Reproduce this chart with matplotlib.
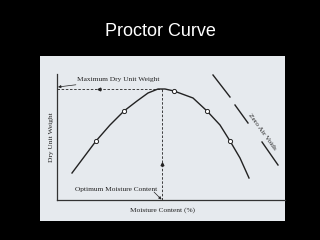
import matplotlib.pyplot as plt
from matplotlib.patches import Rectangle

# compaction curve (arbitrary units, no ticks shown)
curve_w = [1.5, 3.9, 5.3, 6.7, 8.0, 9.1, 10.1, 10.8, 11.7, 13.6, 15.0, 16.3, 17.3, 18.3, 19.2]
curve_g = [2.7, 5.9, 7.5, 8.9, 9.9, 10.7, 11.1, 11.1, 10.9, 10.2, 8.9, 7.5, 5.9, 4.2, 2.2]

# test points (open markers)
test_w = [3.9, 6.7, 11.7, 15.0, 17.3]
test_g = [5.9, 8.9, 10.9, 8.9, 5.9]

opt_w = 10.5
max_g = 11.1

# zero air voids line, drawn in pieces (gap left for the label)
zav_segments = [
    ([15.6, 17.3], [12.5, 10.3]),
    ([17.8, 19.1], [9.5, 7.7]),
    ([20.5, 22.1], [5.8, 3.5]),
]

W, H = 320, 240
fig = plt.figure(figsize=(3.2, 2.4), dpi=100)
fig.patch.set_facecolor("black")

fig.text(0.5, 1 - 31 / H, "Proctor Curve", ha="center", va="center",
         color="white", fontsize=13, family="Liberation Sans")

# the scanned page
fig.patches.append(Rectangle((40 / W, 1 - 221 / H), 245 / W, 165 / H,
                             transform=fig.transFigure, facecolor="#e6eaee",
                             edgecolor="none", zorder=-5))

ax = fig.add_axes([57 / W, 40 / H, 228 / W, 126 / H])
ax.set_facecolor("none")
ax.set_xlim(0, 22.8)
ax.set_ylim(0, 12.6)
ax.set_xticks([])
ax.set_yticks([])
for s in ["top", "right"]:
    ax.spines[s].set_visible(False)
for s in ["left", "bottom"]:
    ax.spines[s].set_linewidth(0.9)
    ax.spines[s].set_color("#333333")

ink = "#222222"
serif = "Liberation Serif"

ax.plot(curve_w, curve_g, color=ink, lw=1.0)
ax.plot(test_w, test_g, "o", ms=3.0, mfc="white", mec=ink, mew=0.7)

# max dry unit weight / optimum moisture guides
ax.plot([0, opt_w], [max_g, max_g], color=ink, lw=0.6, ls=(0, (3, 2)))
ax.plot([opt_w, opt_w], [0, max_g], color=ink, lw=0.6, ls=(0, (3, 2)))
ax.plot([4.2], [max_g], marker="<", ms=2.0, color=ink)
ax.plot([opt_w], [3.6], marker="^", ms=2.0, color=ink)

for xs, ys in zav_segments:
    ax.plot(xs, ys, color=ink, lw=1.0, clip_on=False)
ax.text(20.5, 6.8, "Zero Air Voids", rotation=-54, ha="center", va="center",
        fontsize=5.3, family=serif, color=ink)

ax.annotate("Maximum Dry Unit Weight", xy=(0.1, max_g + 0.2), xytext=(2.0, 12.05),
            ha="left", va="center", fontsize=5.3, family=serif, color=ink,
            arrowprops=dict(arrowstyle="-|>", color=ink, lw=0.5,
                            mutation_scale=4, shrinkA=0, shrinkB=0),
            annotation_clip=False)
ax.text(1.8, 1.1, "Optimum Moisture Content", ha="left", va="center",
        fontsize=5.3, family=serif, color=ink)
ax.annotate("", xy=(opt_w - 0.05, 0.05), xytext=(9.7, 0.8),
            arrowprops=dict(arrowstyle="-|>", color=ink, lw=0.5,
                            mutation_scale=4, shrinkA=0, shrinkB=0))

ax.text(opt_w, -1.0, "Moisture Content (%)", ha="center", va="center",
        fontsize=5.3, family=serif, color=ink)
ax.text(-0.6, 6.3, "Dry Unit Weight", rotation=90, ha="center", va="center",
        fontsize=5.3, family=serif, color=ink)

fig.savefig("out.png", dpi=100, facecolor="black")
